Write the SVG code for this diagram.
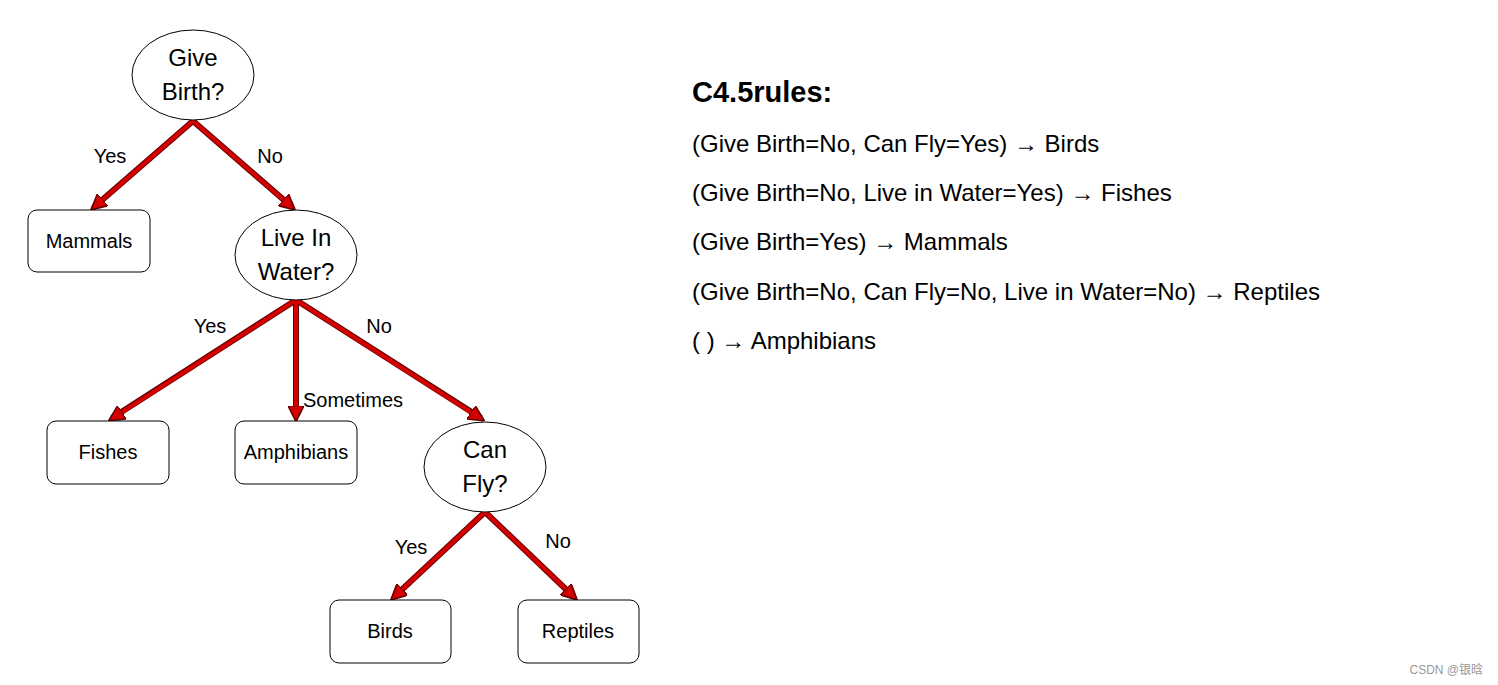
<svg xmlns="http://www.w3.org/2000/svg" width="1498" height="685" viewBox="0 0 1498 685">
<style>
text{font-family:"Liberation Sans",Arial,sans-serif;fill:#000}
.n{fill:#fff;stroke:#000;stroke-width:1}
.t{font-size:20px;text-anchor:middle}
.o{font-size:24px;text-anchor:middle}
.l{font-size:20px;text-anchor:middle}
.r{font-size:24px}
.e1{stroke:#600;stroke-width:6;fill:none}
.e2{stroke:#d40000;stroke-width:4;fill:none}
</style>
<defs>
<marker id="a" viewBox="0 0 10 10" refX="9" refY="5" markerWidth="4" markerHeight="4" orient="auto" markerUnits="strokeWidth">
<path d="M0,0 L10,5 L0,10 Z" fill="#d40000" stroke="#600" stroke-width="1"/>
</marker>
</defs>
<rect width="1498" height="685" fill="#fff"/>
<g id="connectors">
<g class="e1"><path d="M193,121L94,207"/><path d="M193,121L292,207"/><path d="M296,300L112,418"/><path d="M296,300L296,416"/><path d="M296,300L481,418"/><path d="M485,512L394,597"/><path d="M485,512L574,597"/></g>
<g class="e2"><path d="M193,121L92,209" marker-end="url(#a)"/><path d="M193,121L294,209" marker-end="url(#a)"/><path d="M296,300L110,420" marker-end="url(#a)"/><path d="M296,300L296,420" marker-end="url(#a)"/><path d="M296,300L483,420" marker-end="url(#a)"/><path d="M485,512L392,599" marker-end="url(#a)"/><path d="M485,512L576,599" marker-end="url(#a)"/></g>
<text class="l" x="110" y="163">Yes</text><text class="l" x="270" y="163">No</text>
<text class="l" x="210" y="333">Yes</text><text class="l" x="379" y="333">No</text>
<text class="l" x="353" y="407">Sometimes</text>
<text class="l" x="411" y="554">Yes</text><text class="l" x="558" y="548">No</text>
</g>
<g id="giveBirth"><ellipse class="n" cx="193" cy="75" rx="61" ry="45"/><text class="o" x="193" y="66">Give</text><text class="o" x="193" y="100">Birth?</text></g>
<g id="mammals"><rect class="n" x="28" y="210" width="122" height="62" rx="9"/><text class="t" x="89" y="248">Mammals</text></g>
<g id="liveInWater"><ellipse class="n" cx="296" cy="255" rx="61" ry="45"/><text class="o" x="296" y="246">Live In</text><text class="o" x="296" y="280">Water?</text></g>
<g id="fishes"><rect class="n" x="47" y="421" width="122" height="63" rx="9"/><text class="t" x="108" y="459">Fishes</text></g>
<g id="amphibians"><rect class="n" x="235" y="421" width="122" height="63" rx="9"/><text class="t" x="296" y="459">Amphibians</text></g>
<g id="canFly"><ellipse class="n" cx="485" cy="467" rx="61" ry="45"/><text class="o" x="485" y="458">Can</text><text class="o" x="485" y="492">Fly?</text></g>
<g id="birds"><rect class="n" x="330" y="600" width="121" height="63" rx="9"/><text class="t" x="390" y="638">Birds</text></g>
<g id="reptiles"><rect class="n" x="518" y="600" width="121" height="63" rx="9"/><text class="t" x="578" y="638">Reptiles</text></g>
<g id="rules">
<text x="692" y="102" style="font-size:29px;font-weight:bold">C4.5rules:</text>
<text class="r" x="692" y="152">(Give Birth=No, Can Fly=Yes) → Birds</text>
<text class="r" x="692" y="201">(Give Birth=No, Live in Water=Yes) → Fishes</text>
<text class="r" x="692" y="250">(Give Birth=Yes) → Mammals</text>
<text class="r" x="692" y="300">(Give Birth=No, Can Fly=No, Live in Water=No) → Reptiles</text>
<text class="r" x="692" y="349">( ) → Amphibians</text>
</g>
<text x="1483" y="674" style="font-size:12px;fill:#999;text-anchor:end;font-family:'Liberation Sans','Noto Sans CJK SC',sans-serif">CSDN @银晗</text>
</svg>
